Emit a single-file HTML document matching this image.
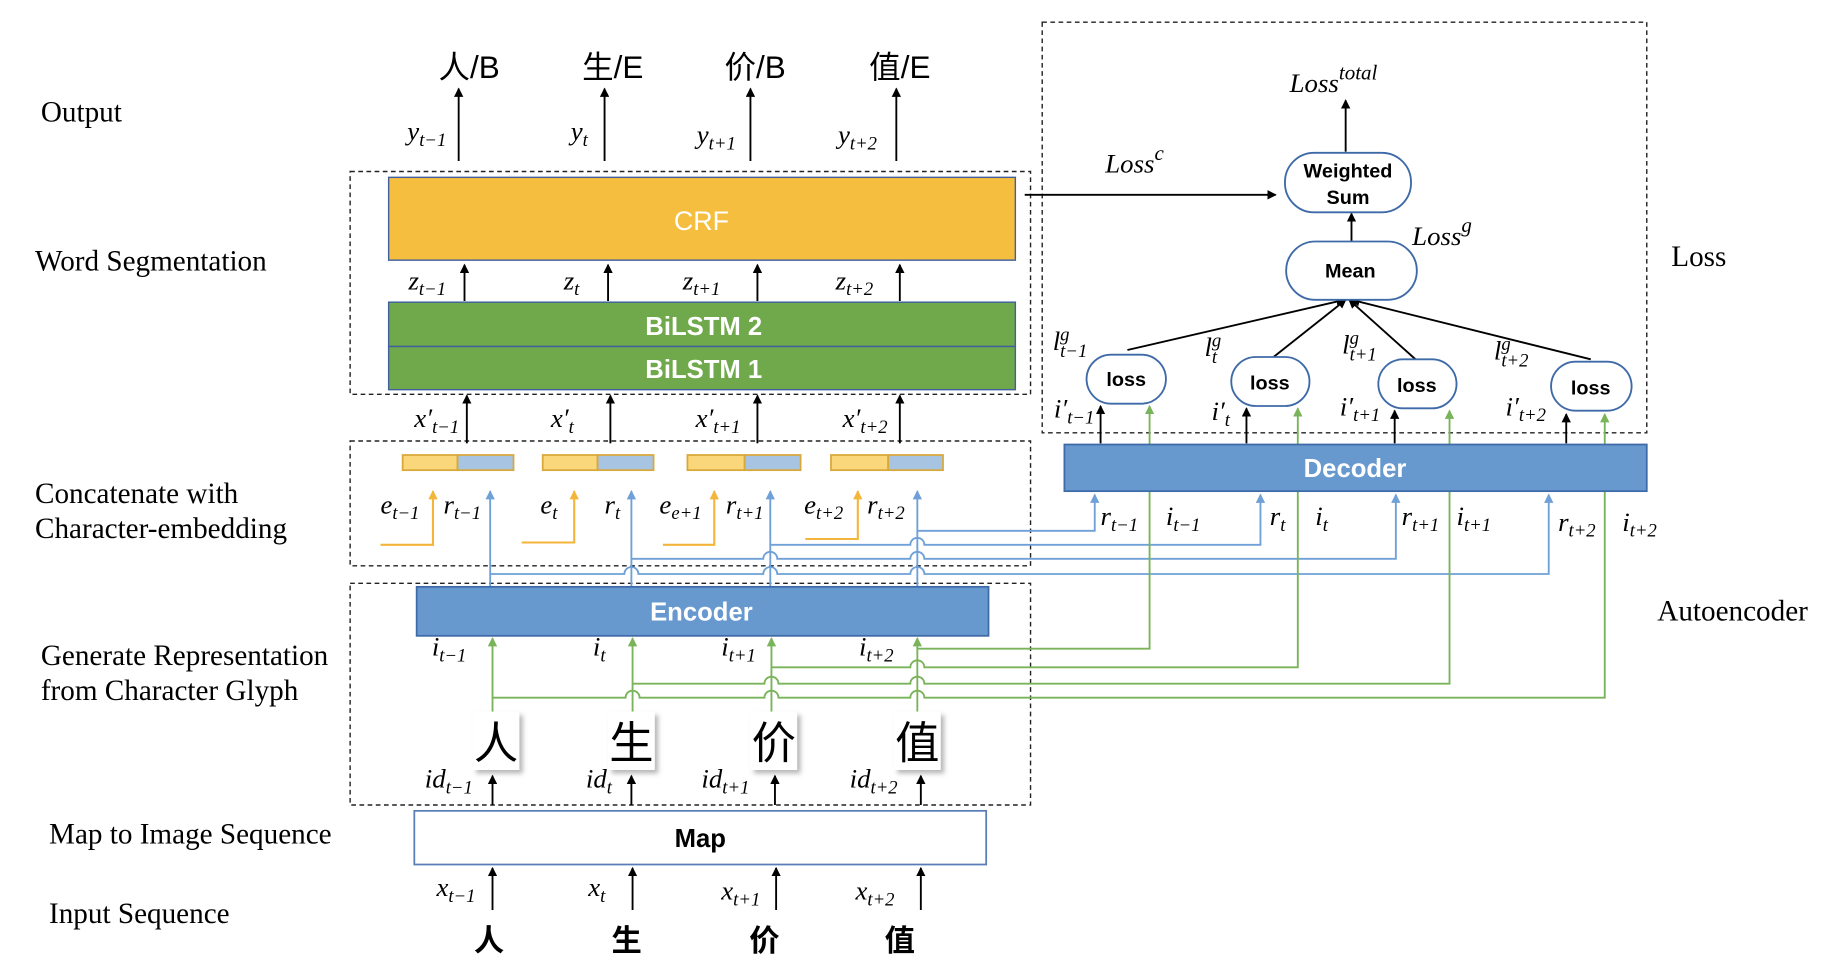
<!DOCTYPE html>
<html><head><meta charset="utf-8"><style>
html,body{margin:0;padding:0;background:#fff;}
svg{display:block;}
.lab{font-family:"Liberation Serif",serif;font-size:25px;fill:#000;}
.m{font-family:"Liberation Serif",serif;font-style:italic;font-size:23px;fill:#000;}
.s{font-size:16px;}
.cj{font-family:"Noto Sans CJK SC","WenQuanYi Zen Hei",sans-serif;}
.b{font-family:"Liberation Sans",sans-serif;font-weight:bold;}
</style></head><body>
<svg width="1830" height="966" viewBox="0 0 1568 828" preserveAspectRatio="none" xmlns="http://www.w3.org/2000/svg">
<defs>
<marker id="ak" markerWidth="8" markerHeight="8" refX="7" refY="4" orient="auto" markerUnits="userSpaceOnUse"><path d="M0,0 L8,4 L0,8 z" fill="#000"/></marker>
<marker id="ab" markerWidth="8" markerHeight="8" refX="7" refY="4" orient="auto" markerUnits="userSpaceOnUse"><path d="M0,0 L8,4 L0,8 z" fill="#6fa0d8"/></marker>
<marker id="ag" markerWidth="8" markerHeight="8" refX="7" refY="4" orient="auto" markerUnits="userSpaceOnUse"><path d="M0,0 L8,4 L0,8 z" fill="#7ab45a"/></marker>
<marker id="ay" markerWidth="8" markerHeight="8" refX="7" refY="4" orient="auto" markerUnits="userSpaceOnUse"><path d="M0,0 L8,4 L0,8 z" fill="#f4b63a"/></marker>
<filter id="sh" x="-30%" y="-30%" width="160%" height="160%"><feDropShadow dx="3" dy="3" stdDeviation="2" flood-color="#888" flood-opacity="0.6"/></filter>
</defs>

<text class="lab" x="35" y="104">Output</text>
<text class="lab" x="30" y="232">Word Segmentation</text>
<text class="lab" x="30" y="431">Concatenate with</text>
<text class="lab" x="30" y="461">Character-embedding</text>
<text class="lab" x="35" y="570">Generate Representation</text>
<text class="lab" x="35" y="600">from Character Glyph</text>
<text class="lab" x="42" y="723">Map to Image Sequence</text>
<text class="lab" x="42" y="791">Input Sequence</text>
<text class="lab" x="1432" y="228">Loss</text>
<text class="lab" x="1420" y="532">Autoencoder</text>

<g font-size="27" text-anchor="middle">
<text x="402" y="67"><tspan class="cj">人</tspan><tspan font-family="Liberation Sans">/B</tspan></text>
<text x="525" y="67"><tspan class="cj">生</tspan><tspan font-family="Liberation Sans">/E</tspan></text>
<text x="647" y="67"><tspan class="cj">价</tspan><tspan font-family="Liberation Sans">/B</tspan></text>
<text x="771" y="67"><tspan class="cj">值</tspan><tspan font-family="Liberation Sans">/E</tspan></text>
</g>
<g stroke="#000" stroke-width="1.6" marker-end="url(#ak)">
<line x1="393" y1="138" x2="393" y2="76"/><line x1="518" y1="138" x2="518" y2="76"/>
<line x1="643" y1="138" x2="643" y2="76"/><line x1="768" y1="138" x2="768" y2="76"/>
</g>
<text class="m" x="349" y="120">y<tspan class="s" dy="5">t−1</tspan></text>
<text class="m" x="489" y="120">y<tspan class="s" dy="5">t</tspan></text>
<text class="m" x="597" y="123">y<tspan class="s" dy="5">t+1</tspan></text>
<text class="m" x="718" y="123">y<tspan class="s" dy="5">t+2</tspan></text>

<g fill="none" stroke="#222" stroke-width="1.2" stroke-dasharray="4,3">
<rect x="300" y="147" width="583" height="191"/>
<rect x="300" y="378" width="583" height="107"/>
<rect x="300" y="500" width="583" height="190"/>
<rect x="893" y="19" width="518" height="352"/>
</g>

<rect x="333" y="152" width="537" height="71" fill="#f5be3f" stroke="#3f5f9f" stroke-width="1.2"/>
<text x="601" y="197" text-anchor="middle" font-family="Liberation Sans" fill="#fff" font-size="23">CRF</text>
<rect x="333" y="259" width="537" height="38" fill="#70a94b" stroke="#3f5f9f" stroke-width="1.2"/>
<rect x="333" y="297" width="537" height="37" fill="#70a94b" stroke="#3f5f9f" stroke-width="1.2"/>
<text x="603" y="287" text-anchor="middle" class="b" fill="#fff" font-size="22">BiLSTM 2</text>
<text x="603" y="324" text-anchor="middle" class="b" fill="#fff" font-size="22">BiLSTM 1</text>

<g stroke="#000" stroke-width="1.6" marker-end="url(#ak)">
<line x1="398" y1="258" x2="398" y2="227"/><line x1="521" y1="258" x2="521" y2="227"/>
<line x1="649" y1="258" x2="649" y2="227"/><line x1="771" y1="258" x2="771" y2="227"/>
<line x1="400" y1="380" x2="400" y2="339"/><line x1="523" y1="380" x2="523" y2="339"/>
<line x1="649" y1="380" x2="649" y2="339"/><line x1="771" y1="380" x2="771" y2="339"/>
</g>
<text class="m" x="350" y="248">z<tspan class="s" dy="5">t−1</tspan></text>
<text class="m" x="483" y="248">z<tspan class="s" dy="5">t</tspan></text>
<text class="m" x="585" y="248">z<tspan class="s" dy="5">t+1</tspan></text>
<text class="m" x="716" y="248">z<tspan class="s" dy="5">t+2</tspan></text>
<text class="m" x="355" y="366">x′<tspan class="s" dy="5">t−1</tspan></text>
<text class="m" x="472" y="366">x′<tspan class="s" dy="5">t</tspan></text>
<text class="m" x="596" y="366">x′<tspan class="s" dy="5">t+1</tspan></text>
<text class="m" x="722" y="366">x′<tspan class="s" dy="5">t+2</tspan></text>

<g stroke="#d9a83a" stroke-width="1.5">
<rect x="345" y="390" width="47" height="13" fill="#f9d77a"/><rect x="392" y="390" width="48" height="13" fill="#a7c4e2"/>
<rect x="465" y="390" width="47" height="13" fill="#f9d77a"/><rect x="512" y="390" width="48" height="13" fill="#a7c4e2"/>
<rect x="589" y="390" width="49" height="13" fill="#f9d77a"/><rect x="638" y="390" width="48" height="13" fill="#a7c4e2"/>
<rect x="712" y="390" width="49" height="13" fill="#f9d77a"/><rect x="761" y="390" width="47" height="13" fill="#a7c4e2"/>
</g>

<g fill="none" stroke="#f4b63a" stroke-width="1.8" marker-end="url(#ay)">
<path d="M326,467 H371 V421"/><path d="M447,465 H492 V421"/>
<path d="M568,467 H612 V421"/><path d="M690,462 H735 V421"/>
</g>
<text class="m" x="326" y="440">e<tspan class="s" dy="5">t−1</tspan></text>
<text class="m" x="380" y="440">r<tspan class="s" dy="5">t−1</tspan></text>
<text class="m" x="463" y="440">e<tspan class="s" dy="5">t</tspan></text>
<text class="m" x="518" y="440">r<tspan class="s" dy="5">t</tspan></text>
<text class="m" x="565" y="440">e<tspan class="s" dy="5">e+1</tspan></text>
<text class="m" x="622" y="440">r<tspan class="s" dy="5">t+1</tspan></text>
<text class="m" x="689" y="440">e<tspan class="s" dy="5">t+2</tspan></text>
<text class="m" x="743" y="440">r<tspan class="s" dy="5">t+2</tspan></text>

<g fill="none" stroke="#6fa0d8" stroke-width="1.6">
<line x1="420" y1="503" x2="420" y2="421" marker-end="url(#ab)"/>
<line x1="541" y1="503" x2="541" y2="421" marker-end="url(#ab)"/>
<line x1="660" y1="503" x2="660" y2="421" marker-end="url(#ab)"/>
<line x1="786" y1="503" x2="786" y2="421" marker-end="url(#ab)"/>
<path d="M786,455 H938 V424" marker-end="url(#ab)"/>
<path d="M660,467 H780 a6,6 0 0 1 12 0 H1080 V424" marker-end="url(#ab)"/>
<path d="M541,479 H654 a6,6 0 0 1 12 0 H780 a6,6 0 0 1 12 0 H1196 V424" marker-end="url(#ab)"/>
<path d="M420,492 H535 a6,6 0 0 1 12 0 H654 a6,6 0 0 1 12 0 H780 a6,6 0 0 1 12 0 H1327 V424" marker-end="url(#ab)"/>
</g>

<rect x="357" y="503" width="490" height="42" fill="#6799cf" stroke="#3f6aa8" stroke-width="1.5"/>
<text x="601" y="532" text-anchor="middle" class="b" fill="#fff" font-size="22">Encoder</text>

<g fill="none" stroke="#7ab45a" stroke-width="1.6">
<line x1="422" y1="610" x2="422" y2="547" marker-end="url(#ag)"/>
<line x1="542" y1="610" x2="542" y2="547" marker-end="url(#ag)"/>
<line x1="661" y1="610" x2="661" y2="547" marker-end="url(#ag)"/>
<line x1="786" y1="610" x2="786" y2="547" marker-end="url(#ag)"/>
<path d="M786,556 H985 V348" marker-end="url(#ag)"/>
<path d="M661,572 H780 a6,6 0 0 1 12 0 H1112 V350" marker-end="url(#ag)"/>
<path d="M542,586 H655 a6,6 0 0 1 12 0 H780 a6,6 0 0 1 12 0 H1242 V352" marker-end="url(#ag)"/>
<path d="M422,598 H536 a6,6 0 0 1 12 0 H655 a6,6 0 0 1 12 0 H780 a6,6 0 0 1 12 0 H1375 V355" marker-end="url(#ag)"/>
</g>
<text class="m" x="370" y="562">i<tspan class="s" dy="5">t−1</tspan></text>
<text class="m" x="508" y="562">i<tspan class="s" dy="5">t</tspan></text>
<text class="m" x="618" y="562">i<tspan class="s" dy="5">t+1</tspan></text>
<text class="m" x="736" y="562">i<tspan class="s" dy="5">t+2</tspan></text>

<g fill="#fff" filter="url(#sh)">
<rect x="405" y="610" width="40" height="50"/><rect x="521" y="610" width="40" height="50"/>
<rect x="643" y="610" width="40" height="50"/><rect x="766" y="610" width="40" height="50"/>
</g>
<g class="cj" font-size="38" text-anchor="middle">
<text x="425" y="650">人</text><text x="541" y="650">生</text><text x="663" y="650">价</text><text x="786" y="650">值</text>
</g>
<g stroke="#000" stroke-width="1.6" marker-end="url(#ak)">
<line x1="422" y1="690" x2="422" y2="665"/><line x1="541" y1="690" x2="541" y2="665"/>
<line x1="664" y1="690" x2="664" y2="665"/><line x1="789" y1="690" x2="789" y2="665"/>
</g>
<text class="m" x="364" y="675">id<tspan class="s" dy="5">t−1</tspan></text>
<text class="m" x="502" y="675">id<tspan class="s" dy="5">t</tspan></text>
<text class="m" x="601" y="675">id<tspan class="s" dy="5">t+1</tspan></text>
<text class="m" x="728" y="675">id<tspan class="s" dy="5">t+2</tspan></text>

<rect x="355" y="695" width="490" height="46" fill="#fff" stroke="#5a7db8" stroke-width="1.5"/>
<text x="600" y="726" text-anchor="middle" class="b" font-size="22">Map</text>
<g stroke="#000" stroke-width="1.6" marker-end="url(#ak)">
<line x1="422" y1="780" x2="422" y2="744"/><line x1="542" y1="780" x2="542" y2="744"/>
<line x1="665" y1="780" x2="665" y2="744"/><line x1="789" y1="780" x2="789" y2="744"/>
</g>
<text class="m" x="374" y="768">x<tspan class="s" dy="5">t−1</tspan></text>
<text class="m" x="504" y="768">x<tspan class="s" dy="5">t</tspan></text>
<text class="m" x="618" y="771">x<tspan class="s" dy="5">t+1</tspan></text>
<text class="m" x="733" y="771">x<tspan class="s" dy="5">t+2</tspan></text>
<g class="cj" font-size="26" font-weight="bold" text-anchor="middle">
<text x="419" y="815">人</text><text x="537" y="815">生</text><text x="655" y="815">价</text><text x="771" y="815">值</text>
</g>

<rect x="912" y="381" width="499" height="40" fill="#6799cf" stroke="#3f6aa8" stroke-width="1.5"/>
<text x="1161" y="409" text-anchor="middle" class="b" fill="#fff" font-size="22">Decoder</text>
<g stroke="#000" stroke-width="1.6" marker-end="url(#ak)">
<line x1="943" y1="380" x2="943" y2="348"/><line x1="1068" y1="380" x2="1068" y2="350"/>
<line x1="1195" y1="380" x2="1195" y2="352"/><line x1="1342" y1="380" x2="1342" y2="355"/>
<line x1="878" y1="167" x2="1093" y2="167"/>
<line x1="1158" y1="207" x2="1158" y2="183"/>
<line x1="1153" y1="130" x2="1153" y2="86"/>
<line x1="966" y1="300" x2="1152" y2="257"/><line x1="1090" y1="307" x2="1153" y2="257"/>
<line x1="1214" y1="309" x2="1156" y2="257"/><line x1="1363" y1="308" x2="1158" y2="257"/>
</g>
<g fill="#fff" stroke="#3f6aa8" stroke-width="1.6">
<rect x="931" y="304" width="68" height="42" rx="21"/>
<rect x="1055" y="306" width="67" height="42" rx="21"/>
<rect x="1181" y="308" width="67" height="42" rx="21"/>
<rect x="1329" y="310" width="69" height="42" rx="21"/>
<rect x="1102" y="207" width="112" height="50" rx="25"/>
<rect x="1101" y="131" width="108" height="51" rx="25"/>
</g>
<g class="b" font-size="17" text-anchor="middle">
<text x="965" y="331">loss</text><text x="1088" y="334">loss</text><text x="1214" y="336">loss</text><text x="1363" y="338">loss</text>
<text x="1157" y="238">Mean</text>
<text x="1155" y="152">Weighted</text><text x="1155" y="175">Sum</text>
</g>
<text class="m" x="1105" y="79" font-size="26">Loss<tspan dy="-11" font-size="18">total</tspan></text>
<text class="m" x="947" y="148" font-size="26">Loss<tspan dy="-11" font-size="18">c</tspan></text>
<text class="m" x="1210" y="210" font-size="26">Loss<tspan dy="-11" font-size="18">g</tspan></text>
<text class="m" x="902" y="300">l<tspan class="s" dy="-8">g</tspan><tspan class="s" dx="-8" dy="14">t−1</tspan></text>
<text class="m" x="1032" y="305">l<tspan class="s" dy="-8">g</tspan><tspan class="s" dx="-8" dy="14">t</tspan></text>
<text class="m" x="1150" y="303">l<tspan class="s" dy="-8">g</tspan><tspan class="s" dx="-8" dy="14">t+1</tspan></text>
<text class="m" x="1280" y="308">l<tspan class="s" dy="-8">g</tspan><tspan class="s" dx="-8" dy="14">t+2</tspan></text>
<text class="m" x="903" y="358">i′<tspan class="s" dy="5">t−1</tspan></text>
<text class="m" x="1038" y="360">i′<tspan class="s" dy="5">t</tspan></text>
<text class="m" x="1148" y="356">i′<tspan class="s" dy="5">t+1</tspan></text>
<text class="m" x="1290" y="356">i′<tspan class="s" dy="5">t+2</tspan></text>
<text class="m" x="943" y="450">r<tspan class="s" dy="5">t−1</tspan></text>
<text class="m" x="999" y="450">i<tspan class="s" dy="5">t−1</tspan></text>
<text class="m" x="1088" y="450">r<tspan class="s" dy="5">t</tspan></text>
<text class="m" x="1127" y="450">i<tspan class="s" dy="5">t</tspan></text>
<text class="m" x="1201" y="450">r<tspan class="s" dy="5">t+1</tspan></text>
<text class="m" x="1248" y="450">i<tspan class="s" dy="5">t+1</tspan></text>
<text class="m" x="1335" y="455">r<tspan class="s" dy="5">t+2</tspan></text>
<text class="m" x="1390" y="455">i<tspan class="s" dy="5">t+2</tspan></text>
</svg>
</body></html>
